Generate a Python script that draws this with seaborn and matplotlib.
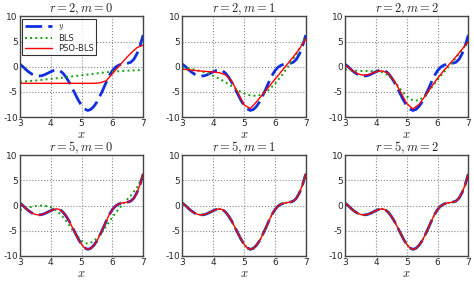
import numpy as np
import matplotlib
matplotlib.use("Agg")
import matplotlib.pyplot as plt
import seaborn as sns

# true function y, sampled every 0.1 on [3, 7]
x_true = np.round(np.arange(3.0, 7.01, 0.1), 2)
y_true = [0.5, 0.0, -0.6, -1.1, -1.5, -1.75, -1.85, -1.8, -1.6, -1.3,
          -1.0, -0.75, -0.65, -0.8, -1.3, -2.1, -3.1, -4.3, -5.5, -6.7,
          -7.7, -8.4, -8.7, -8.5, -7.9, -7.0, -5.8, -4.5, -3.1, -1.8,
          -0.8, -0.1, 0.3, 0.5, 0.6, 0.7, 0.9, 1.5, 2.6, 4.2, 6.3]

# fitted curves, sampled every 0.2 on [3, 7]
x_fit = np.round(np.arange(3.0, 7.01, 0.2), 2)

bls_r2_m0 = [-3.0, -2.9, -2.8, -2.7, -2.55, -2.4, -2.3, -2.15, -2.0, -1.85,
             -1.7, -1.55, -1.4, -1.25, -1.1, -1.0, -0.9, -0.8, -0.75, -0.7, -0.65]
pso_r2_m0 = [-3.3, -3.3, -3.3, -3.3, -3.3, -3.3, -3.3, -3.3, -3.3, -3.3,
             -3.3, -3.3, -3.3, -3.2, -2.8, -1.4, 0.0, 1.4, 2.7, 3.8, 4.3]

bls_r2_m1 = [-0.1, -0.3, -0.6, -0.9, -1.3, -1.8, -2.4, -3.1, -3.9, -4.7,
             -5.3, -5.7, -5.8, -5.5, -4.6, -3.4, -1.9, -0.2, 1.6, 3.6, 5.9]
pso_r2_m1 = [-0.5, -0.6, -0.75, -0.85, -0.95, -1.05, -1.2, -1.6, -2.9, -5.2,
             -7.6, -8.3, -7.0, -5.5, -4.0, -2.5, -1.0, 0.5, 2.0, 3.6, 5.5]

bls_r2_m2 = [-0.5, -0.7, -0.8, -0.85, -0.85, -0.9, -1.1, -1.7, -2.9, -4.5,
             -5.9, -6.7, -6.7, -5.7, -4.2, -2.6, -1.1, 0.3, 1.8, 3.4, 5.0]
pso_r2_m2 = [0.4, -0.6, -1.4, -1.7, -1.5, -1.0, -0.8, -1.3, -2.8, -5.0,
             -7.3, -8.4, -7.5, -5.8, -4.0, -2.3, -0.8, 0.6, 2.0, 3.5, 5.0]

bls_r5_m0 = [-0.9, -0.5, -0.2, 0.0, 0.0, -0.3, -1.0, -2.3, -3.9, -5.6,
             -7.0, -7.6, -7.1, -5.8, -4.1, -2.3, -0.7, 0.7, 2.0, 3.6, 6.0]

titles = ["$r=2, m=0$", "$r=2, m=1$", "$r=2, m=2$",
          "$r=5, m=0$", "$r=5, m=1$", "$r=5, m=2$"]

# (x, bls, x, pso) for each panel; for r=5, m=1/2 the fits sit on y
panels = [
    (x_fit, bls_r2_m0, x_fit, pso_r2_m0),
    (x_fit, bls_r2_m1, x_fit, pso_r2_m1),
    (x_fit, bls_r2_m2, x_fit, pso_r2_m2),
    (x_fit, bls_r5_m0, x_true, y_true),
    (x_true, y_true, x_true, y_true),
    (x_true, y_true, x_true, y_true),
]

sns.set_style("white")
plt.rcParams["mathtext.fontset"] = "cm"
plt.rcParams["axes.unicode_minus"] = False
plt.rcParams["font.family"] = ["DejaVu Sans"]

fig = plt.figure(figsize=(4.74, 2.84), dpi=100)
lefts = [0.042, 0.385, 0.728]
bottoms = [0.588, 0.099]

for i, (xb, yb, xp, yp) in enumerate(panels):
    ax = fig.add_axes([lefts[i % 3], bottoms[i // 3], 0.260, 0.354])
    sns.lineplot(x=x_true, y=y_true, ax=ax, color="#1030e0", lw=2.0,
                 label="$y$")
    ax.lines[-1].set_dashes([6, 2.2])
    sns.lineplot(x=xb, y=yb, ax=ax, color="#10a010", lw=1.4, label="BLS")
    ax.lines[-1].set_linestyle(":")
    sns.lineplot(x=xp, y=yp, ax=ax, color="#ff0000", lw=1.0, label="PSO-BLS")

    ax.set_xlim(3, 7)
    ax.set_ylim(-10, 10)
    ax.set_xticks([3, 4, 5, 6, 7])
    ax.set_yticks([-10, -5, 0, 5, 10])
    ax.grid(True, linestyle=":", color="#888888", lw=0.8)
    ax.tick_params(labelsize=6.5, length=0, pad=1.5)
    for s in ax.spines.values():
        s.set_color("#444444")
        s.set_linewidth(1.0)
    ax.set_title(titles[i], fontsize=9, pad=3)
    ax.set_xlabel("$x$", fontsize=9, labelpad=0)
    ax.set_ylabel("")
    if i == 0:
        leg = ax.legend(loc="upper left", fontsize=6, frameon=True,
                        fancybox=False, handlelength=3.2, borderpad=0.3,
                        labelspacing=0.15, borderaxespad=0.3)
        leg.get_frame().set_edgecolor("black")
        leg.get_frame().set_linewidth(0.8)
    else:
        ax.get_legend().remove()

fig.savefig("out.png", dpi=100)
